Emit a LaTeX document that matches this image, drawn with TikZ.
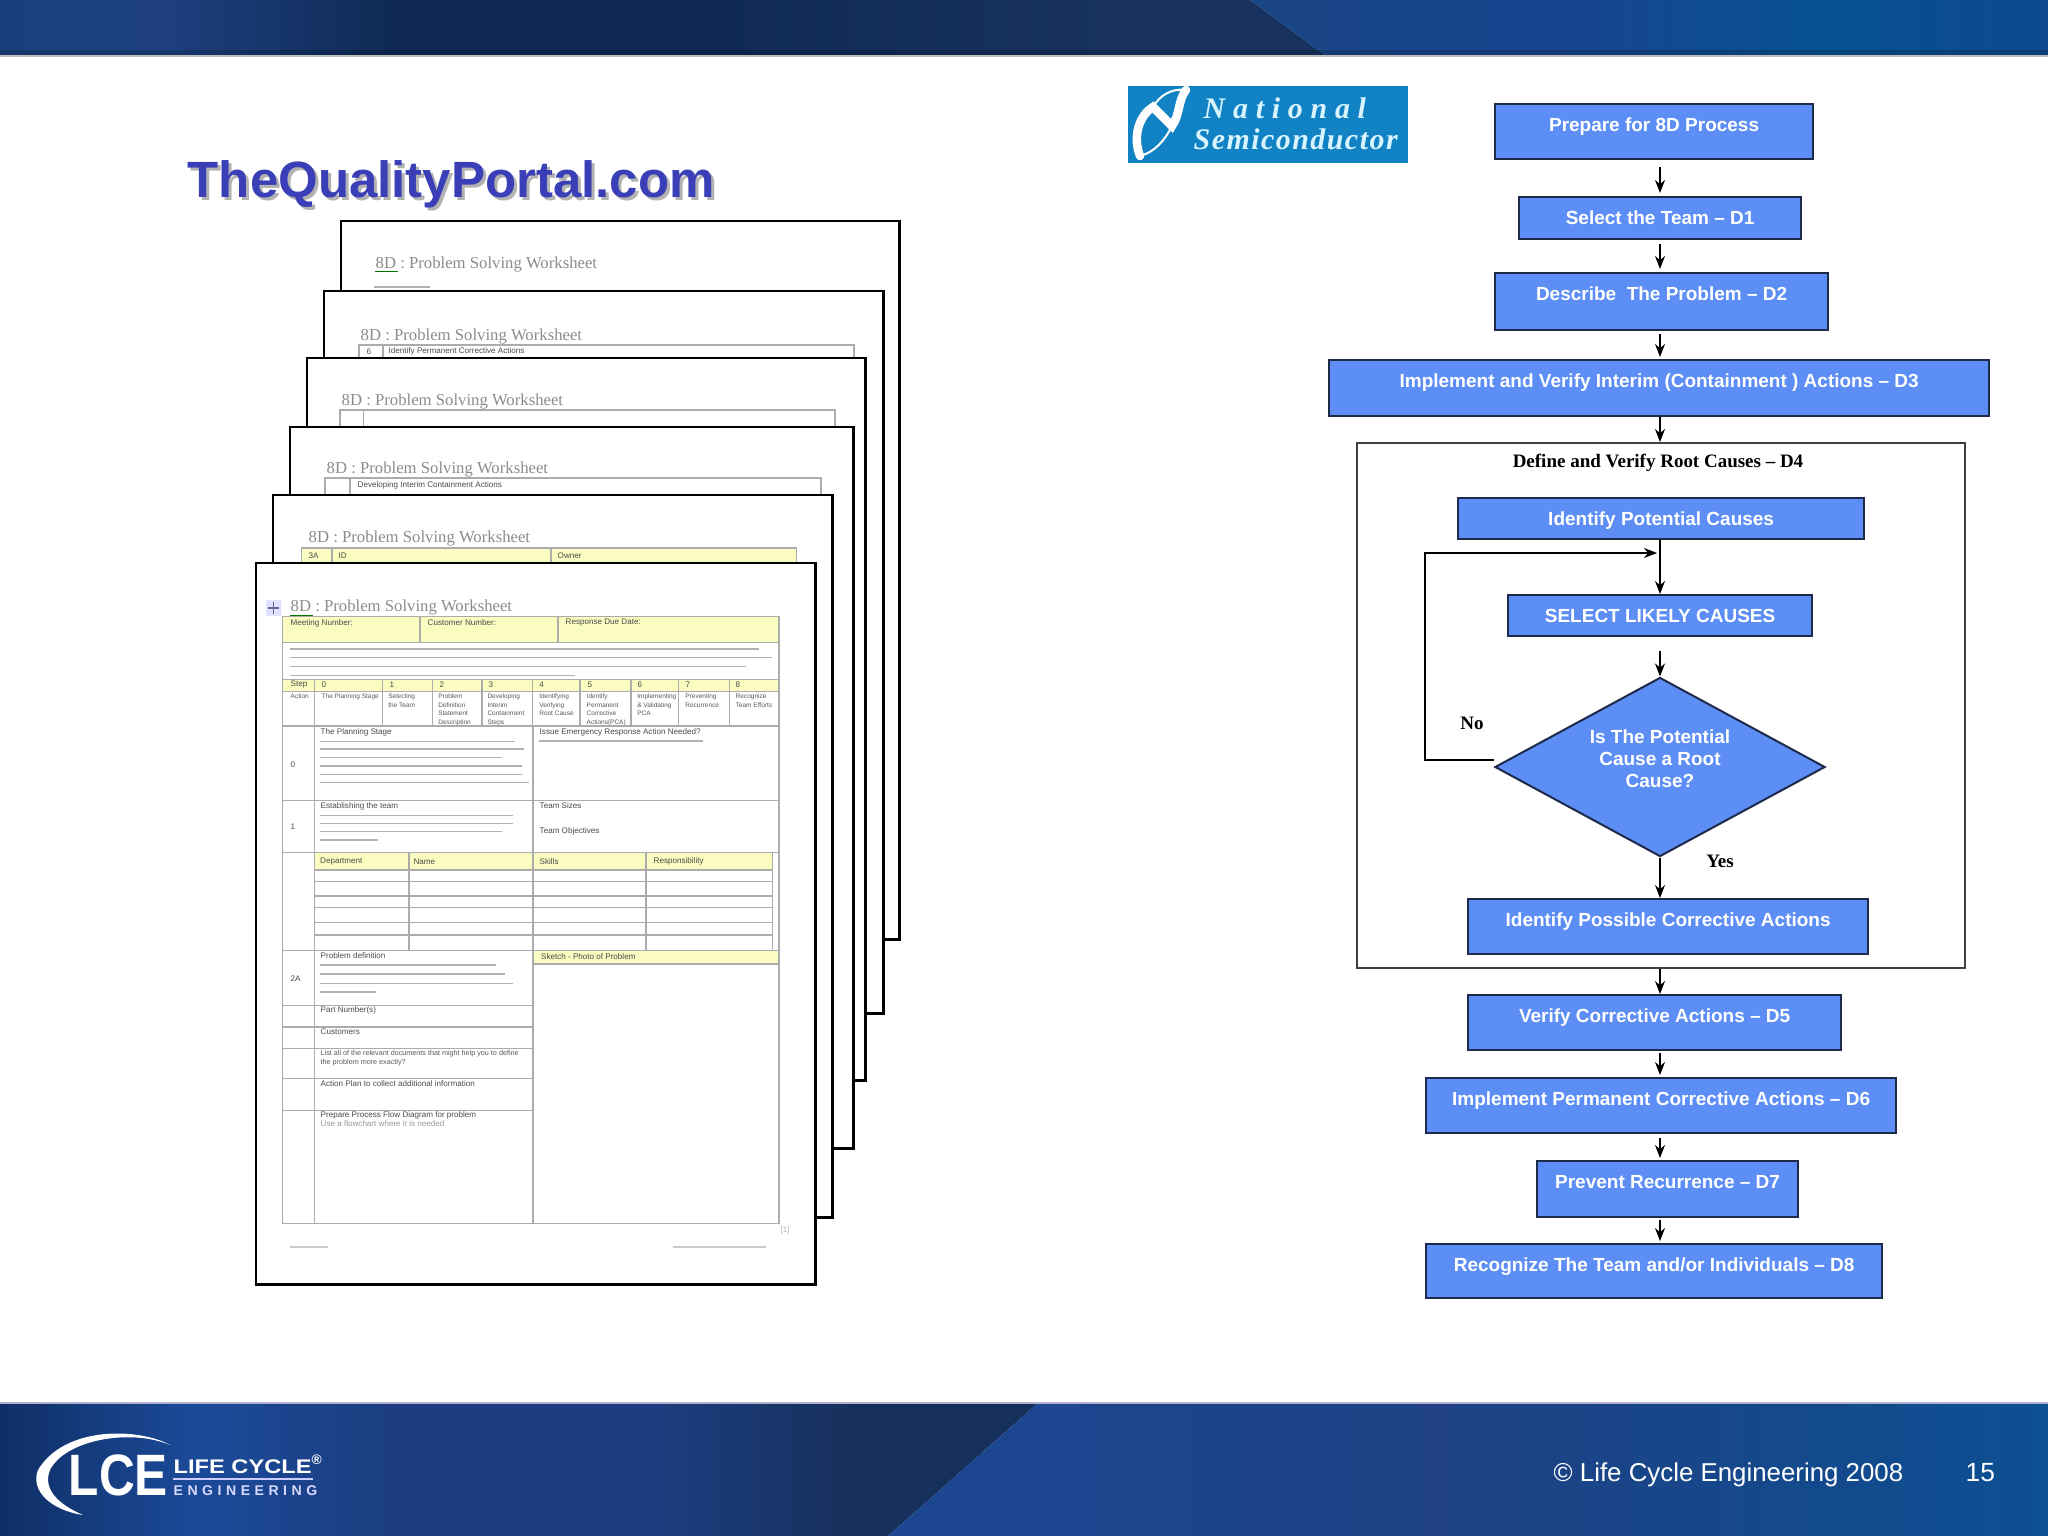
\documentclass[tikz,border=0pt]{standalone}
\usepackage{fontspec}
\setmainfont{Liberation Sans}
\newfontfamily\serifhead{Liberation Serif}
\usepackage{xcolor}
\usepackage{tikz}
\usetikzlibrary{positioning, arrows.meta, shapes.geometric}
\definecolor{stepblue}{HTML}{5C8EF5}
\definecolor{stepline}{HTML}{1E2A4A}
\definecolor{sheetyellow}{HTML}{FAFCC0}
\definecolor{natblue}{HTML}{1183C5}
\definecolor{natpale}{HTML}{D8F4FF}
\definecolor{portalblue}{HTML}{3A3FB8}
\definecolor{tla}{HTML}{1B3F7D}
\definecolor{tlb}{HTML}{1E4080}
\definecolor{tlc}{HTML}{0E2A55}
\definecolor{tld}{HTML}{17325F}
\definecolor{tra}{HTML}{1A4585}
\definecolor{trb}{HTML}{18458F}
\definecolor{trc}{HTML}{06508F}
\definecolor{trd}{HTML}{0F4A8E}
\definecolor{bla}{HTML}{0F2F66}
\definecolor{blb}{HTML}{1B4A99}
\definecolor{blc}{HTML}{1C3D80}
\definecolor{bld}{HTML}{16305C}
\definecolor{bra}{HTML}{1C4690}
\definecolor{brb}{HTML}{1F4184}
\definecolor{brc}{HTML}{0C4F92}
\pgfdeclarehorizontalshading{topleft}{100bp}{color(0bp)=(tla); color(25bp)=(tla); color(30.9bp)=(tlb); color(39.7bp)=(tlc); color(52.2bp)=(tlc); color(66.9bp)=(tld); color(75bp)=(tld); color(100bp)=(tld)}
\pgfdeclarehorizontalshading{topright}{100bp}{color(0bp)=(tra); color(25bp)=(tra); color(44.9bp)=(trb); color(61.2bp)=(trc); color(75bp)=(trd); color(100bp)=(trd)}
\pgfdeclarehorizontalshading{botleft}{100bp}{color(0bp)=(bla); color(25bp)=(bla); color(34.4bp)=(blb); color(43.9bp)=(blc); color(56.5bp)=(blc); color(66bp)=(bld); color(75bp)=(bld); color(100bp)=(bld)}
\pgfdeclarehorizontalshading{botright}{100bp}{color(0bp)=(bra); color(25bp)=(bra); color(31.7bp)=(bra); color(48.6bp)=(brb); color(75bp)=(brc); color(100bp)=(brc)}
\newcommand\cellfont{\fontsize{2.3}{2.47}\selectfont}
\newcommand\actfont{\fontsize{1.85}{2.47}\selectfont}
\newcommand\stepfont{\fontsize{5.4}{6.26}\selectfont\bfseries}

\begin{document}
\begin{tikzpicture}[
    x=0.01cm, y=-0.01cm,
    stepbox/.style={draw=stepline, fill=stepblue, line width=0.02cm, anchor=north west,
                    inner xsep=0pt, inner ysep=0pt, text height=0.27cm, text=white, font=\stepfont},
    askbox/.style={diamond, draw=stepline, fill=stepblue, line width=0.02cm, shape aspect=1.84,
                   minimum width=3.3cm, minimum height=1.79cm, inner sep=0pt, align=center,
                   text=white, font=\stepfont},
    arr/.style={-{Stealth[length=1.3mm, width=1mm]}, line width=0.016cm, draw=black},
    note/.style={font=\fontsize{5.4}{6.3}\selectfont\serifhead\bfseries, text=black, anchor=base},
    sheet/.style={draw=black, fill=white, line width=0.024cm, anchor=north west, inner sep=0pt},
    sheethead/.style={font=\fontsize{4.75}{6}\selectfont\serifhead, text=black!45, anchor=base west, inner sep=0pt},
    squiggle/.style={draw=green!45!black, line width=0.01cm},
    grid/.style={draw=gray!65, line width=0.012cm},
    yellowcell/.style={fill=sheetyellow, draw=gray!65, line width=0.012cm},
    cell/.style={font=\cellfont, text=black!70, anchor=west, inner sep=0pt},
    mcell/.style={font=\actfont, text=black!65, anchor=north west, align=left, inner sep=0pt},
    greek/.style={draw=black!30, line width=0.014cm},
]
\useasboundingbox (0,0) rectangle (2048,1536);
\fill[white] (0,0) rectangle (2048,1536);

\shade[shading=topleft] (0,0) -- (1250,0) -- (1325,55) -- (0,55) -- cycle;
\shade[shading=topright] (1250,0) -- (2048,0) -- (2048,55) -- (1325,55) -- cycle;
\fill[black, opacity=0.15] (0,50) rectangle (2048,55);
\fill[gray!50] (0,55) rectangle (2048,57);
\shade[shading=botleft] (0,1403) -- (1038,1403) -- (888,1536) -- (0,1536) -- cycle;
\shade[shading=botright] (1038,1403) -- (2048,1403) -- (2048,1536) -- (888,1536) -- cycle;
\fill[blue!20!gray!50] (0,1402) rectangle (2048,1404);

\node[font=\fontsize{14.5}{16}\selectfont\bfseries, text=black!30, anchor=base west, inner sep=0pt] (portalshadow) at (190,200) {TheQualityPortal.com};
\node[font=\fontsize{14.5}{16}\selectfont\bfseries, text=portalblue, anchor=base west, inner sep=0pt] (portal) at (187,197) {TheQualityPortal.com};

\node[sheet, minimum width=5.58cm, minimum height=7.18cm] (sheetone) at (340,220) {};
\node[sheethead] (headone) at (375,268) {8D : Problem Solving Worksheet};
\draw[squiggle] (375,271) -- (398,271);
\draw[greek] (374,287) -- (430,287);

\node[sheet, minimum width=5.59cm, minimum height=7.22cm] (sheettwo) at (323,290) {};
\node[sheethead] (headtwo) at (360,340) {8D : Problem Solving Worksheet};
\draw[grid] (359,345) rectangle (854,370) (383,345) -- (383,370);
\node[cell] (labeltwo) at (388,351.7) {Identify Permanent Corrective Actions};
\node[cell] (numtwo) at (366,351.7) {6};

\node[sheet, minimum width=5.58cm, minimum height=7.22cm] (sheetthree) at (306,357) {};
\node[sheethead] (headthree) at (341,405) {8D : Problem Solving Worksheet};
\draw[grid] (340,410) rectangle (835,440) (363.6,410) -- (363.6,440);

\node[sheet, minimum width=5.63cm, minimum height=7.21cm] (sheetfour) at (289,426) {};
\node[sheethead] (headfour) at (326,473) {8D : Problem Solving Worksheet};
\draw[grid] (325,478) rectangle (821,510) (350,478) -- (350,510);
\node[cell] (labelfour) at (357,485.7) {Developing Interim Containment Actions};

\node[sheet, minimum width=5.59cm, minimum height=7.22cm] (sheetfive) at (272,494) {};
\node[sheethead] (headfive) at (308,542.7) {8D : Problem Solving Worksheet};
\draw[yellowcell] (301.5,548) rectangle (796.5,585);
\draw[grid] (332,548) -- (332,585) (551,548) -- (551,585);
\node[cell] (stepfive) at (308,556) {3A};
\node[cell] (idfive) at (338,556) {ID};
\node[cell] (ownerfive) at (557,556) {Owner};

\node[sheet, minimum width=5.59cm, minimum height=7.21cm] (sheetsix) at (255,562) {};
\fill[blue!12] (265.5,600) rectangle (281,616);
\draw[draw=gray!80!blue, line width=0.014cm] (268,608) -- (279,608) (273.5,602) -- (273.5,614);
\node[sheethead] (headsix) at (290,611.7) {8D : Problem Solving Worksheet};
\draw[squiggle] (290,615) -- (313,615);

\draw[yellowcell] (282.6,616.7) rectangle (779,642.7);
\draw[yellowcell] (282.6,679.3) rectangle (779,691.7);
\draw[yellowcell] (314.7,852.3) rectangle (772.4,870);
\draw[yellowcell] (533,950.7) rectangle (779,964);
\draw[grid] (282.6,616.7) rectangle (779,1223.3);
\draw[grid] (420,616.7) -- (420,642.7) (558,616.7) -- (558,642.7);
\draw[grid] (314.7,679.3) -- (314.7,726) (382.4,679.3) -- (382.4,726) (432.4,679.3) -- (432.4,726) (482,679.3) -- (482,726);
\draw[grid] (532.3,679.3) -- (532.3,726) (580,679.3) -- (580,726) (631,679.3) -- (631,726) (678.4,679.3) -- (678.4,726) (729.5,679.3) -- (729.5,726);
\draw[grid] (282.6,726) -- (779,726) (282.6,800.7) -- (779,800.7) (282.6,852.3) -- (779,852.3) (282.6,950.7) -- (779,950.7);
\draw[grid] (314.7,726) -- (314.7,1223.3) (533,726) -- (533,1223.3);
\draw[grid] (772.4,852.3) -- (772.4,950.7) (409,852.3) -- (409,950.7) (646,852.3) -- (646,950.7);
\draw[grid] (314.7,881.7) -- (772.4,881.7) (314.7,896) -- (772.4,896) (314.7,907.7) -- (772.4,907.7) (314.7,922.7) -- (772.4,922.7) (314.7,935) -- (772.4,935);
\draw[grid] (282.6,1005.3) -- (533,1005.3) (282.6,1027) -- (533,1027) (282.6,1048.3) -- (533,1048.3) (282.6,1078.3) -- (533,1078.3) (282.6,1110.3) -- (533,1110.3);

\node[cell] (meeting) at (290,623) {Meeting Number:};
\node[cell] (customer) at (427,623) {Customer Number:};
\node[cell] (response) at (565,623) {Response Due Date:};
\draw[greek] (290,649) -- (759,649) (290,657.7) -- (772,657.7) (290,666.7) -- (746,666.7) (290,675.7) -- (575,675.7);

\node[cell] (steprow) at (290,684.3) {Step};
\node[cell] (stepzero) at (321,684.3) {0};
\node[cell] (stepa) at (389,684.3) {1};
\node[cell] (stepb) at (439,684.3) {2};
\node[cell] (stepc) at (488,684.3) {3};
\node[cell] (stepd) at (538.6,684.3) {4};
\node[cell] (stepe) at (587,684.3) {5};
\node[cell] (stepf) at (637,684.3) {6};
\node[cell] (stepg) at (685,684.3) {7};
\node[cell] (steph) at (735,684.3) {8};

\node[mcell] (actionrow) at (290,693) {Action};
\node[mcell] (actzero) at (321,693) {The Planning Stage};
\node[mcell] (acta) at (387.6,693) {Selecting\\the Team};
\node[mcell] (actb) at (437.6,693) {Problem\\Definition\\Statement\\Description};
\node[mcell] (actc) at (486.8,693) {Developing\\Interim\\Containment\\Steps};
\node[mcell] (actd) at (538.6,693) {Identifying\\Verifying\\Root Cause};
\node[mcell] (acte) at (586,693) {Identify\\Permanent\\Corrective\\Actions(PCA)};
\node[mcell] (actf) at (636.6,693) {Implementing\\\& Validating\\PCA};
\node[mcell] (actg) at (684.7,693) {Preventing\\Recurrence};
\node[mcell] (acth) at (735,693) {Recognize\\Team Efforts};

\node[cell] (rowzero) at (290,765) {0};
\node[cell] (planhead) at (320,732.3) {The Planning Stage};
\draw[greek] (320,741.3) -- (514.5,741.3) (320,749) -- (523.8,749) (320,757.7) -- (501.6,757.7) (320,766) -- (522,766) (320,774.3) -- (522,774.3) (320,782.7) -- (529,782.7);
\node[cell] (issuehead) at (539,732.3) {Issue Emergency Response Action Needed?};
\draw[greek] (539,741) -- (703,741);

\node[cell] (rowone) at (290,827) {1};
\node[cell] (teamhead) at (320,806.7) {Establishing the team};
\draw[greek] (320,815.3) -- (512.7,815.3) (320,823.3) -- (512.7,823.3) (320,831.7) -- (501.6,831.7) (320,840) -- (377.6,840);
\node[cell] (teamsize) at (539,805.7) {Team Sizes};
\node[cell] (teamobj) at (539,831) {Team Objectives};
\node[cell] (deptname) at (319.5,861.7) {Department};
\node[cell] (namecol) at (412.8,861.7) {Name};
\node[cell] (skillcol) at (539,861.7) {Skills};
\node[cell] (respcol) at (653,861.7) {Responsibility};

\node[cell] (rowtwo) at (290,979) {2A};
\node[cell] (probhead) at (320,956) {Problem definition};
\draw[greek] (320,965) -- (496,965) (320,974) -- (505,974) (320,983.3) -- (513.4,983.3) (320,992) -- (375.8,992);
\node[cell] (sketch) at (540.4,956.7) {Sketch - Photo of Problem};
\node[cell] (partnum) at (320,1010.3) {Part Number(s)};
\node[cell] (customers) at (320,1032) {Customers};
\node[mcell, font=\fontsize{2.05}{2.47}\selectfont] (listdocs) at (320,1050) {List all of the relevant documents that might help you to define\\the problem more exactly?};
\node[cell] (actionplan) at (320,1083.3) {Action Plan to collect additional information};
\node[cell] (flowplan) at (320,1115) {Prepare Process Flow Diagram for problem};
\node[cell, text=black!40] (flowuse) at (320,1124) {Use a flowchart where it is needed};
\node[cell, text=black!30] (pagemark) at (780,1230) {[1]};
\draw[draw=black!20, line width=0.014cm] (290,1247) -- (328,1247) (673,1247) -- (766,1247);

\node[fill=natblue, minimum width=2.8cm, minimum height=0.77cm, anchor=north west, inner sep=0pt] (natlogo) at (1127,85) {};
\draw[white, line width=0.085cm, line cap=round] (1140,156) .. controls (1132,135) and (1140,115) .. (1153,107) -- (1172,126) .. controls (1180,115) and (1178,100) .. (1186,90);
\draw[white, line width=0.02cm] (1140,156) .. controls (1155,152) and (1165,140) .. (1172,126) (1153,107) .. controls (1160,95) and (1172,88) .. (1186,90);
\node[font=\fontsize{8.5}{10}\selectfont\serifhead\bfseries\itshape\addfontfeature{LetterSpace=26}, text=natpale, anchor=base west, inner sep=0pt] (natone) at (1203,118) {National};
\node[font=\fontsize{8.5}{10}\selectfont\serifhead\bfseries\itshape\addfontfeature{LetterSpace=5}, text=natpale, anchor=base west, inner sep=0pt] (nattwo) at (1193,149) {Semiconductor};

\node[stepbox, minimum width=3.18cm, text depth=0.28cm] (prepare) at (1494,103) {Prepare for 8D Process};
\node[stepbox, minimum width=2.82cm, text depth=0.15cm] (team) at (1518,196) {Select the Team -- D1};
\node[stepbox, minimum width=3.33cm, text depth=0.30cm] (describe) at (1494,272) {Describe\ \ The Problem -- D2};
\node[stepbox, minimum width=6.6cm, text depth=0.29cm] (interim) at (1328,359) {Implement and Verify Interim (Containment ) Actions -- D3};
\node[draw=black!75, line width=0.02cm, anchor=north west, minimum width=6.08cm, minimum height=5.25cm, inner sep=0pt] (rootbox) at (1356,442) {};
\node[note] (roottitle) at (1658,467) {Define and Verify Root Causes – D4};
\node[stepbox, minimum width=4.06cm, text depth=0.14cm] (potential) at (1457,497) {Identify Potential Causes};
\node[stepbox, minimum width=3.04cm, text depth=0.14cm] (likely) at (1507,594) {SELECT LIKELY CAUSES};
\node[askbox, text depth=0.16cm] (isroot) at (1660,767) {Is The Potential\\Cause a Root\\Cause?};
\node[stepbox, minimum width=4cm, text depth=0.28cm] (corrective) at (1467,898) {Identify Possible Corrective Actions};
\node[stepbox, minimum width=3.73cm, text depth=0.28cm] (verify) at (1467,994) {Verify Corrective Actions -- D5};
\node[stepbox, minimum width=4.7cm, text depth=0.28cm] (permanent) at (1425,1077) {Implement Permanent Corrective Actions -- D6};
\node[stepbox, minimum width=2.61cm, text depth=0.29cm] (prevent) at (1536,1160) {Prevent Recurrence -- D7};
\node[stepbox, minimum width=4.56cm, text depth=0.27cm] (recognize) at (1425,1243) {Recognize The Team and/or Individuals -- D8};
\node[note] (nolabel) at (1472,729) {No};
\node[note] (yeslabel) at (1720,867) {Yes};

\coordinate (spine) at (1660,0);
\coordinate (loopcorner) at (1425,760);
\coordinate (loopjoin) at (1657,553);
\draw[arr, shorten <=0.07cm, shorten >=0.03cm] (prepare.south -| spine) -- (team.north -| spine);
\draw[arr, shorten <=0.04cm, shorten >=0.03cm] (team.south -| spine) -- (describe.north -| spine);
\draw[arr, shorten <=0.03cm, shorten >=0.02cm] (describe.south -| spine) -- (interim.north -| spine);
\draw[arr] (interim.south -| spine) -- (rootbox.north -| spine);
\draw[arr] (potential.south -| spine) -- (likely.north -| spine);
\draw[arr, shorten <=0.14cm] (likely.south -| spine) -- (isroot.north);
\draw[arr] (isroot.south) -- (corrective.north -| spine);
\draw[arr] ([yshift=0.07cm]isroot.west) -- (loopcorner) |- (loopjoin);
\draw[arr] (rootbox.south -| spine) -- (verify.north -| spine);
\draw[arr, shorten <=0.02cm, shorten >=0.02cm] (verify.south -| spine) -- (permanent.north -| spine);
\draw[arr, shorten <=0.04cm, shorten >=0.02cm] (permanent.south -| spine) -- (prevent.north -| spine);
\draw[arr, shorten <=0.02cm, shorten >=0.02cm] (prevent.south -| spine) -- (recognize.north -| spine);

\fill[white] (170,1445) .. controls (140,1428) and (65,1425) .. (38,1470) .. controls (30,1490) and (50,1510) .. (83,1515) .. controls (60,1505) and (42,1490) .. (50,1470) .. controls (65,1440) and (130,1428) .. (170,1445) -- cycle;
\node[font=\fontsize{16.6}{18}\selectfont\bfseries, text=white, anchor=base west, inner sep=0pt] (lcemark) at (68,1495) {\scalebox{.85}[1]{LCE}};
\node[font=\fontsize{5.6}{7}\selectfont\bfseries, text=white, anchor=base west, inner sep=0pt] (lifecycle) at (173,1473) {\scalebox{1.2}[1]{LIFE CYCLE}\textsuperscript{®}};
\draw[blue!20!white, line width=0.015cm] (173,1479) -- (313,1479);
\node[font=\fontsize{4}{5}\selectfont\bfseries\addfontfeature{LetterSpace=32}, text=blue!15!white, anchor=base west, inner sep=0pt] (engineering) at (173,1495) {ENGINEERING};

\node[font=\fontsize{7.35}{9}\selectfont, text=white, anchor=base west, inner sep=0pt] (copyright) at (1553,1481.7) {© Life Cycle Engineering 2008};
\node[font=\fontsize{7.5}{9}\selectfont, text=white, anchor=base west, inner sep=0pt] (pagenum) at (1965,1481.7) {15};
\end{tikzpicture}
\end{document}
